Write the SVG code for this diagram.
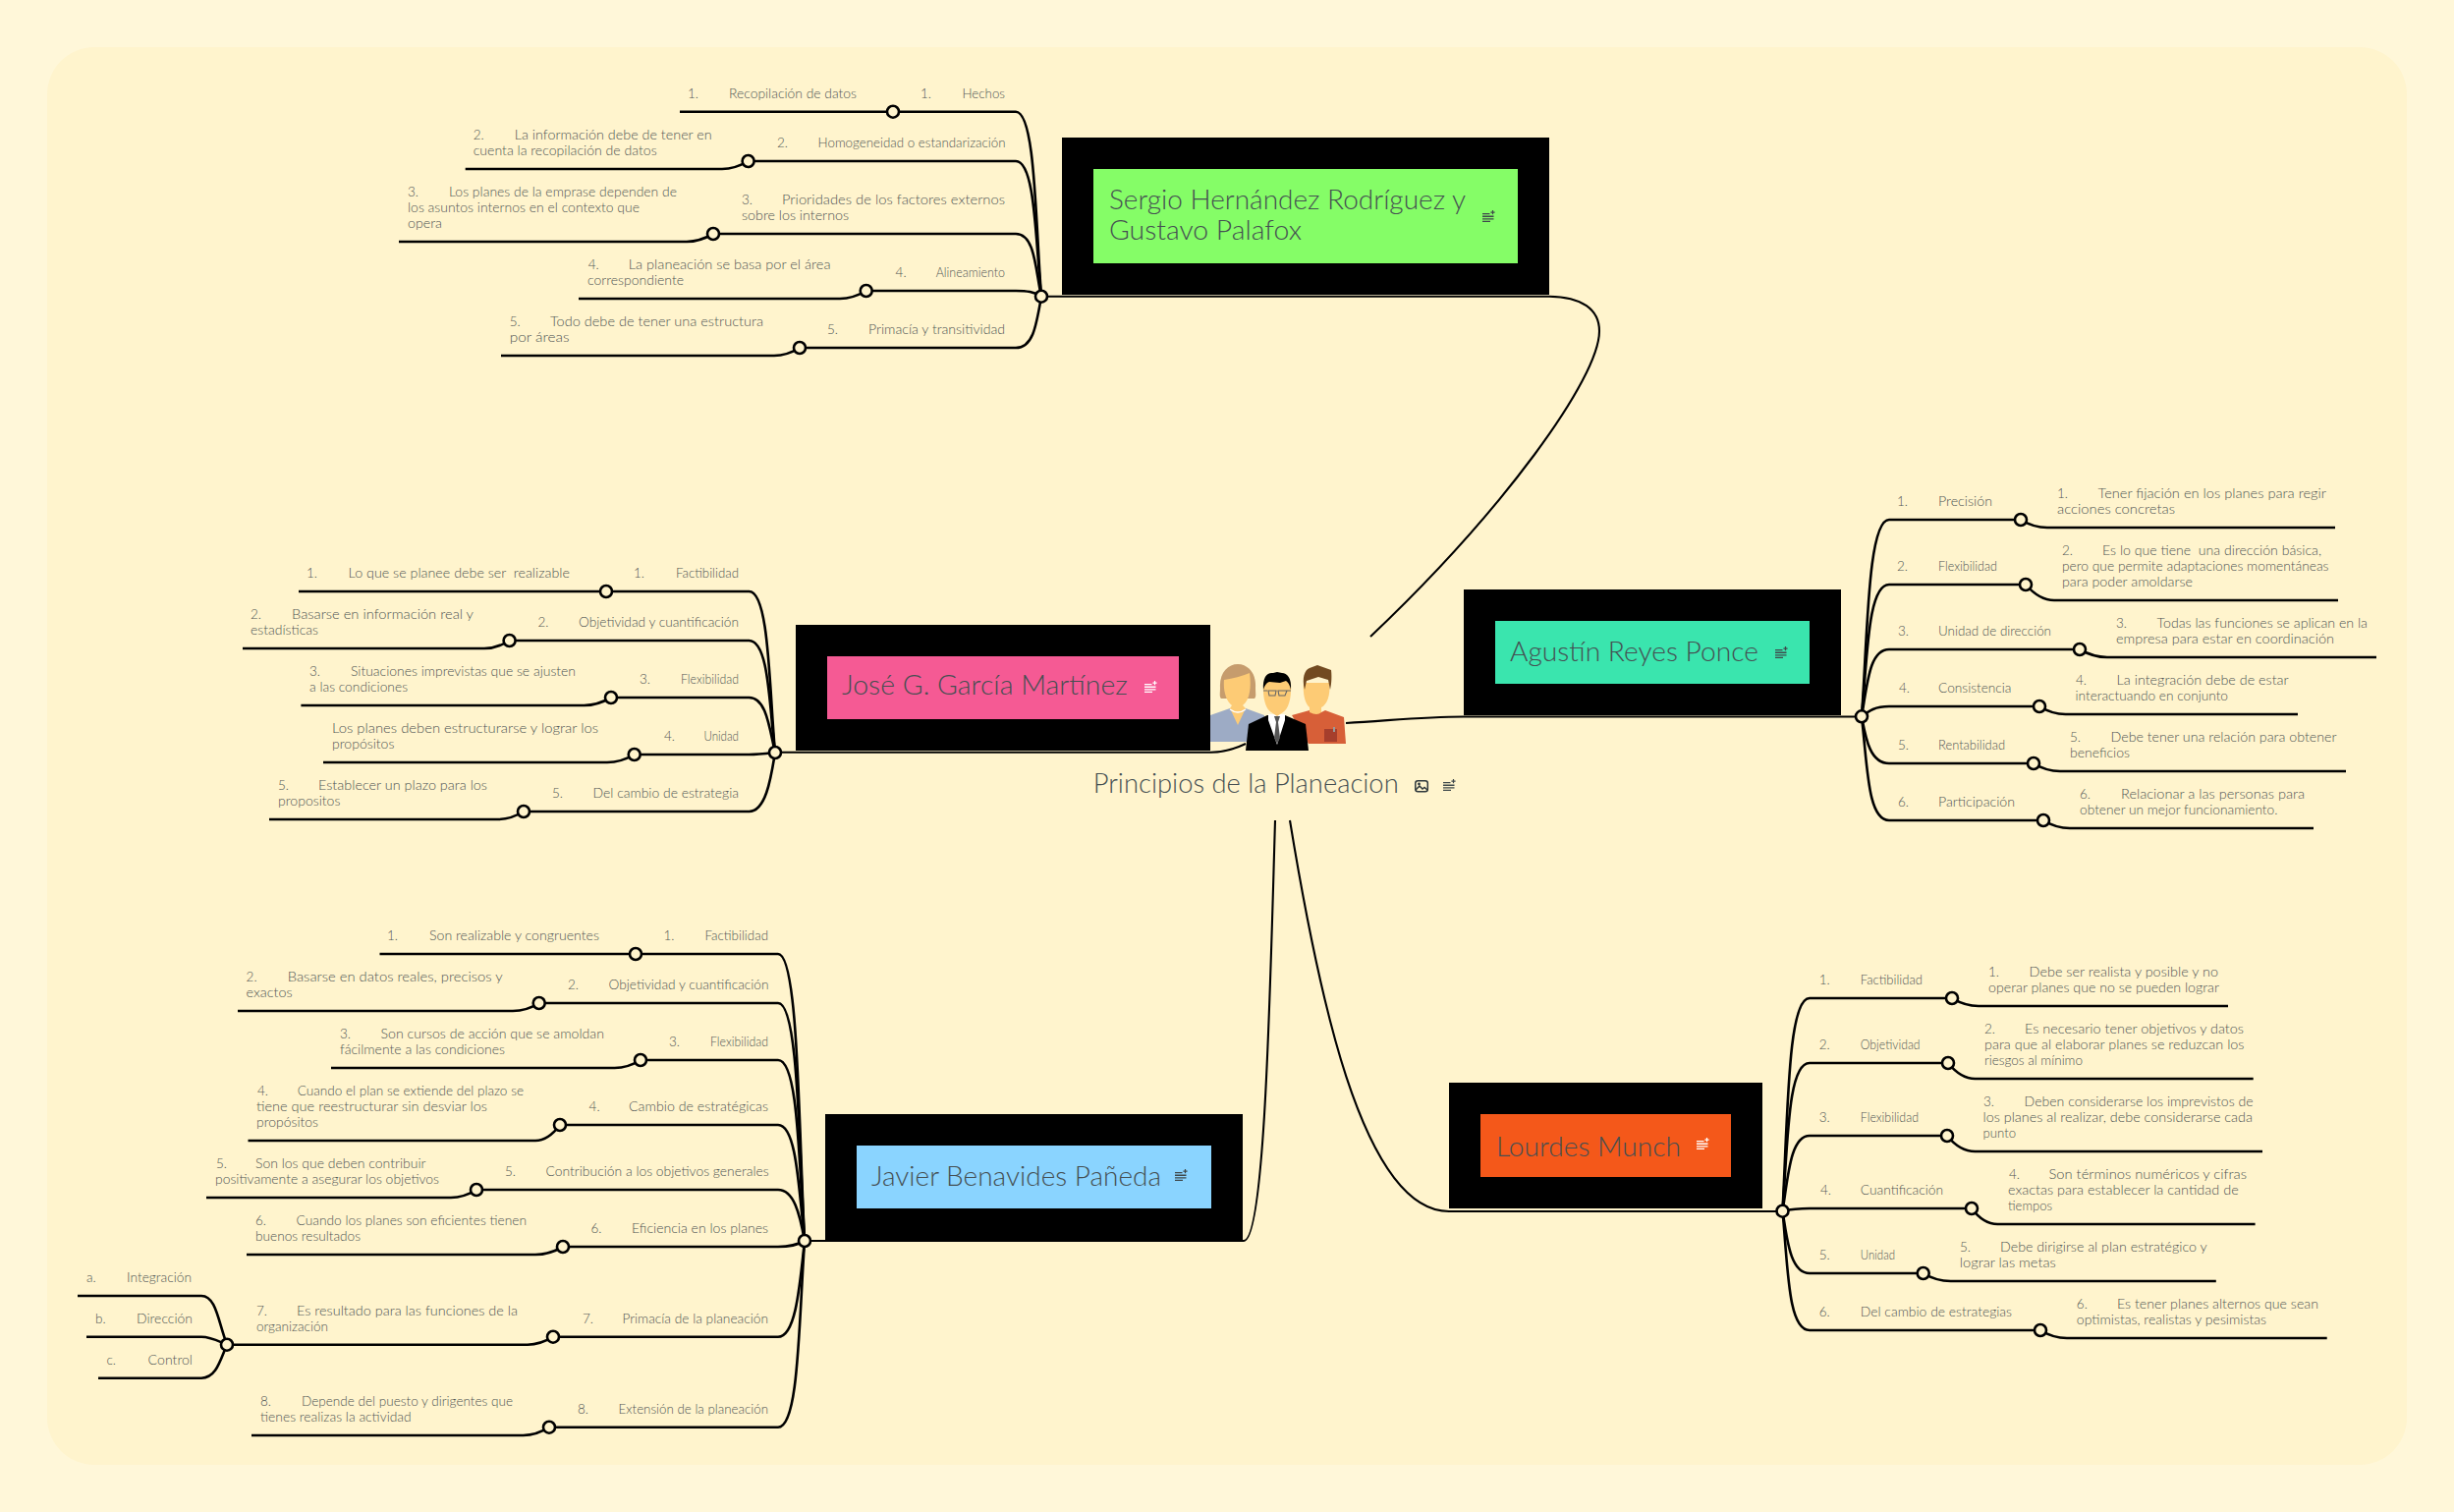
<svg xmlns="http://www.w3.org/2000/svg" width="2498" height="1539" viewBox="0 0 2498 1539">
<style>
text{font-family:"Lato","Open Sans","Liberation Sans",sans-serif;}
.t{font-size:13.5px;fill:#4f5454;font-weight:300;white-space:pre}
.b{font-size:27px;fill:#454f52;font-weight:300}
.c{fill:none;stroke:#000;stroke-width:2.6;stroke-linecap:butt}
.m{fill:none;stroke:#000;stroke-width:2.1;stroke-linecap:butt}
.h{fill:#fff4cd;stroke:#000;stroke-width:2.6}
.k{fill:#000}
.nw{fill:#fff}
.nd{fill:#3f484b}
</style>
<defs>
<symbol id="note" viewBox="0 0 13 12"><path d="M0,3h7.5v1.3H0zM0,5.6h11.5v1.3H0zM0,8.2h11.5v1.3H0zM0,10.7h8v1.3H0zM9.9,0h1.2v1.5h1.5v1.2h-1.5v1.5h-1.2v-1.5h-1.5v-1.2h1.5z"/></symbol>
</defs>
<rect width="2498" height="1539" fill="#fff7d9"/>
<rect x="48" y="48" width="2402" height="1443" rx="48" fill="#fff4cd"/>

<g id="connectors">
<path class="m" d="M1060,301.7H1577C1610,302 1628,315 1628,337C1628,385 1530,520 1395,648"/>
<path class="c" d="M692,113.7H1034C1054,113.7 1054,226 1060,301.7"/>
<path class="c" d="M473.7,172H735Q748,172 761.6,164H1034C1054,164 1054,246 1060,301.7"/>
<path class="c" d="M406,246H699Q712,246 726,238H1034C1054,238 1054,276 1060,301.7"/>
<path class="c" d="M589,304H855Q868,304 881.7,296H1034C1046,296 1052,297 1060,301.7"/>
<path class="c" d="M510,362H788Q801,362 814,354H1034C1052,354 1055,330 1060,301.7"/>

<path class="m" d="M1268,757Q1250,765.7 1233,765.7H789"/>
<path class="c" d="M304,602H762.5C783,602 783,700 789,766"/>
<path class="c" d="M247,660H493Q506,660 518.6,652H762.5C783,652 783,720 789,766"/>
<path class="c" d="M306.4,718H594.6Q608,718 622,710H762.5C780,710 783,740 789,766"/>
<path class="c" d="M329,776H618Q632,776 645.7,768H762.5C772,768 780,767 789,766"/>
<path class="c" d="M274,834H506Q520,834 533,826H762.5C780,826 785,790 789,766"/>

<path class="m" d="M1370,736C1420,733 1450,729.5 1490,729.5H1895"/>
<path class="c" d="M2377,537H2084Q2070,537 2057,529H1923C1901,529 1901,650 1895,729.3"/>
<path class="c" d="M2380,611H2091Q2076,611 2062,595H1923C1901,595 1901,670 1895,729.3"/>
<path class="c" d="M2419,669H2145Q2131,669 2117,661H1923C1903,661 1901,695 1895,729.3"/>
<path class="c" d="M2339,727H2102.6Q2089,727 2076,719H1923C1908,719 1902,724 1895,729.3"/>
<path class="c" d="M2388,785H2097Q2083,785 2070,777H1923C1903,777 1899,750 1895,729.3"/>
<path class="c" d="M2355,843H2107Q2093,843 2080,835H1923C1901,835 1901,780 1895,729.3"/>

<path class="m" d="M1313,835C1340,1000 1385,1233 1475,1233H1814.5"/>
<path class="c" d="M2268,1024H2014Q2000,1024 1987,1016H1842C1820,1016 1820,1130 1814.5,1232.7"/>
<path class="c" d="M2293.7,1098H2010.5Q1996,1098 1983,1082H1842C1820,1082 1820,1160 1814.5,1232.7"/>
<path class="c" d="M2303,1172H2010.5Q1995,1172 1982,1156H1842C1822,1156 1820,1200 1814.5,1232.7"/>
<path class="c" d="M2295.6,1246H2033.4Q2019,1246 2007,1230H1842C1830,1230 1822,1231 1814.5,1232.7"/>
<path class="c" d="M2255.8,1304H1985.6Q1971,1304 1957.7,1296H1842C1822,1296 1819,1260 1814.5,1232.7"/>
<path class="c" d="M2368.7,1362H2104Q2090,1362 2077,1354H1842C1820,1354 1820,1290 1814.5,1232.7"/>

<path class="m" d="M1298,835C1293,1000 1288,1263 1266,1263H819"/>
<path class="c" d="M386.5,971H792C813,971 813,1150 819,1263"/>
<path class="c" d="M242,1029H522Q536,1029 548.7,1021H792C813,1021 813,1165 819,1263"/>
<path class="c" d="M337,1087H625.7Q639,1087 652,1079H792C813,1079 813,1185 819,1263"/>
<path class="c" d="M252.5,1161H545Q558,1161 570,1145H792C811,1145 813,1210 819,1263"/>
<path class="c" d="M210,1219H459Q472,1219 485,1211H792C808,1211 814,1235 819,1263"/>
<path class="c" d="M251,1277H545Q559,1277 573,1269H792C803,1269 812,1267 819,1263"/>
<path class="c" d="M231,1368.7H537Q550,1368.7 563,1360.7H792C810,1360.7 814,1310 819,1263"/>
<path class="c" d="M256,1461H532.6Q546,1461 559,1452.7H792C813,1452.7 813,1350 819,1263"/>
<path class="c" d="M79,1319H205C220,1319 222,1345 231,1368.7"/>
<path class="c" d="M88,1360.7H205C215,1360.7 222,1365 231,1368.7"/>
<path class="c" d="M100,1402.7H205C220,1402.7 224,1385 231,1368.7"/>

<g>
<circle class="h" cx="1060" cy="301.7" r="6"/><circle class="h" cx="909" cy="113.7" r="6"/><circle class="h" cx="761.6" cy="164" r="6"/><circle class="h" cx="726" cy="238" r="6"/><circle class="h" cx="881.7" cy="296" r="6"/><circle class="h" cx="814" cy="354" r="6"/>
<circle class="h" cx="789" cy="766" r="6"/><circle class="h" cx="617" cy="602" r="6"/><circle class="h" cx="518.6" cy="652" r="6"/><circle class="h" cx="622" cy="710" r="6"/><circle class="h" cx="645.7" cy="768" r="6"/><circle class="h" cx="533" cy="826" r="6"/>
<circle class="h" cx="1895" cy="729.3" r="6"/><circle class="h" cx="2057" cy="529" r="6"/><circle class="h" cx="2062" cy="595" r="6"/><circle class="h" cx="2117" cy="661" r="6"/><circle class="h" cx="2076" cy="719" r="6"/><circle class="h" cx="2070" cy="777" r="6"/><circle class="h" cx="2080" cy="835" r="6"/>
<circle class="h" cx="1814.5" cy="1232.7" r="6"/><circle class="h" cx="1987" cy="1016" r="6"/><circle class="h" cx="1983" cy="1082" r="6"/><circle class="h" cx="1982" cy="1156" r="6"/><circle class="h" cx="2007" cy="1230" r="6"/><circle class="h" cx="1957.7" cy="1296" r="6"/><circle class="h" cx="2077" cy="1354" r="6"/>
<circle class="h" cx="819" cy="1263" r="6"/><circle class="h" cx="647" cy="971" r="6"/><circle class="h" cx="548.7" cy="1021" r="6"/><circle class="h" cx="652" cy="1079" r="6"/><circle class="h" cx="570" cy="1145" r="6"/><circle class="h" cx="485" cy="1211" r="6"/><circle class="h" cx="573" cy="1269" r="6"/><circle class="h" cx="563" cy="1360.7" r="6"/><circle class="h" cx="559" cy="1452.7" r="6"/><circle class="h" cx="231" cy="1368.7" r="6"/>
</g>
</g>

<g id="root">
<g id="people">
<path fill="#9dabc5" d="M1232,728L1252,721H1268L1287,728V755H1232Z"/>
<path fill="#c69c6d" d="M1242,700C1241,685 1250,676 1260,676C1270,676 1279,685 1278,700C1278,706 1279,709 1277,711H1243C1241,709 1242,706 1242,700Z"/>
<path fill="#fdcb75" d="M1246,692Q1260,690 1272,685C1274,700 1272,713 1265,718L1268,721L1260,738L1252,721L1254,718C1248,713 1245,703 1246,692Z"/>
<path fill="none" stroke="#fff" stroke-width="1.5" d="M1252,722Q1260,728 1268,722"/>
<path fill="#d75f38" d="M1315,728L1333,723Q1341,728 1349,723L1368,730L1370,757H1332Z"/>
<path fill="#a63e2c" d="M1348,742H1361V755H1348Z"/>
<path fill="#999" d="M1357,740H1359V745H1357Z"/>
<path fill="#fdcb75" d="M1327,695H1353C1355,708 1350,718 1345,720V725Q1341,729 1333,725V720C1328,716 1326,705 1327,695Z"/>
<path fill="#724a21" d="M1328,702C1325,690 1328,682 1333,680L1341,677L1355,682C1356,690 1355,698 1354,702L1352,692L1342,689L1330,693Z"/>
<path fill="#000" d="M1268,764L1271,737L1290,728H1308L1329,737L1332,764Z"/>
<path fill="#fff" d="M1291,727H1308V733L1300,758L1291,733Z"/>
<path fill="#555" d="M1297,729H1303L1301,735L1303,751L1300,757L1297,751L1299,735Z"/>
<path fill="#fdcb75" d="M1286,695C1291,690 1309,690 1314,695C1315,712 1311,722 1306,725L1300,729L1294,725C1289,722 1285,712 1286,695Z"/>
<path fill="#000" d="M1286,702C1285,689 1290,684 1296,685L1300,684L1305,685C1310,685 1315,690 1314,702C1313,697 1311,694 1309,693L1303,695L1292,694C1289,695 1287,698 1286,702Z"/>
<path fill="none" stroke="#666" stroke-width="1.1" d="M1286,703H1290M1310,703H1314M1291,703H1299L1298,708H1292ZM1301,703H1310L1308,708H1302Z"/>
</g>
<text class="b" x="1112.7" y="807" textLength="311" lengthAdjust="spacingAndGlyphs">Principios de la Planeacion</text>
<g fill="none" stroke="#2f383c" stroke-width="1.5"><rect x="1440.8" y="794.8" width="12.5" height="11" rx="2.5"/><path d="M1441,804L1445,800L1448,803L1450,801.5L1453,804"/></g><circle cx="1444.5" cy="798" r="1.4" fill="#2f383c"/>
<use href="#note" class="nd" x="1469" y="793" width="13" height="12"/>
</g>

<g id="node-sergio">
<rect class="k" x="1081" y="140" width="496" height="160"/>
<rect x="1113" y="172" width="432" height="96" fill="#85fd67"/>
<text class="b" x="1129" y="213" textLength="363" lengthAdjust="spacingAndGlyphs">Sergio Hernández Rodríguez y</text>
<text class="b" x="1129" y="244" textLength="196" lengthAdjust="spacingAndGlyphs">Gustavo Palafox</text>
<use href="#note" class="nd" x="1509" y="214" width="13" height="12"/>
</g>
<g id="node-jose">
<rect class="k" x="810" y="636" width="422" height="128"/>
<rect x="842" y="668" width="358" height="64" fill="#f55a94"/>
<text class="b" x="857" y="707" textLength="291" lengthAdjust="spacingAndGlyphs">José G. García Martínez</text>
<use href="#note" class="nw" x="1165" y="693" width="13" height="12"/>
</g>
<g id="node-agustin">
<rect class="k" x="1490" y="600" width="384" height="128"/>
<rect x="1522" y="632" width="320" height="64" fill="#3ae5ae"/>
<text class="b" x="1537" y="673" textLength="253" lengthAdjust="spacingAndGlyphs">Agustín Reyes Ponce</text>
<use href="#note" class="nd" x="1807" y="658" width="13" height="12"/>
</g>
<g id="node-lourdes">
<rect class="k" x="1475" y="1102" width="319" height="128"/>
<rect x="1507" y="1134" width="255" height="64" fill="#f4581a"/>
<text class="b" x="1523" y="1177" textLength="188" lengthAdjust="spacingAndGlyphs">Lourdes Munch</text>
<use href="#note" class="nw" x="1727" y="1158" width="13" height="12"/>
</g>
<g id="node-javier">
<rect class="k" x="840" y="1134" width="425" height="128"/>
<rect x="872" y="1166" width="361" height="64" fill="#8ad4ff"/>
<text class="b" x="887" y="1207" textLength="295" lengthAdjust="spacingAndGlyphs">Javier Benavides Pañeda</text>
<use href="#note" class="nd" x="1196" y="1190" width="13" height="12"/>
</g>

<g id="labels-sergio">
<text class="t" y="100"><tspan x="937">1. </tspan><tspan x="979.5" textLength="43.5" lengthAdjust="spacingAndGlyphs">Hechos</tspan></text>
<text class="t" y="100"><tspan x="700">1. </tspan><tspan x="742" textLength="130" lengthAdjust="spacingAndGlyphs">Recopilación de datos</tspan></text>
<text class="t" y="150"><tspan x="791">2. </tspan><tspan x="832.6" textLength="191" lengthAdjust="spacingAndGlyphs">Homogeneidad o estandarización</tspan></text>
<text class="t" y="142"><tspan x="481.7">2. </tspan><tspan x="523.7" textLength="201" lengthAdjust="spacingAndGlyphs">La información debe de tener en</tspan></text>
<text class="t" x="481.7" y="158" textLength="187" lengthAdjust="spacingAndGlyphs">cuenta la recopilación de datos</text>
<text class="t" y="208"><tspan x="755">3. </tspan><tspan x="796" textLength="227" lengthAdjust="spacingAndGlyphs">Prioridades de los factores externos</tspan></text>
<text class="t" x="755" y="224" textLength="109" lengthAdjust="spacingAndGlyphs">sobre los internos</text>
<text class="t" y="200"><tspan x="415">3. </tspan><tspan x="457" textLength="232" lengthAdjust="spacingAndGlyphs">Los planes de la emprase dependen de</tspan></text>
<text class="t" x="415" y="216" textLength="236" lengthAdjust="spacingAndGlyphs">los asuntos internos en el contexto que</text>
<text class="t" x="415" y="232" textLength="35" lengthAdjust="spacingAndGlyphs">opera</text>
<text class="t" y="282"><tspan x="911.6">4. </tspan><tspan x="952.7" textLength="70.3" lengthAdjust="spacingAndGlyphs">Alineamiento</tspan></text>
<text class="t" y="274"><tspan x="598.7">4. </tspan><tspan x="639.7" textLength="205.8" lengthAdjust="spacingAndGlyphs">La planeación se basa por el área</tspan></text>
<text class="t" x="598" y="290" textLength="98" lengthAdjust="spacingAndGlyphs">correspondiente</text>
<text class="t" y="340"><tspan x="842">5. </tspan><tspan x="884" textLength="139" lengthAdjust="spacingAndGlyphs">Primacía y transitividad</tspan></text>
<text class="t" y="332"><tspan x="518.7">5. </tspan><tspan x="560" textLength="217" lengthAdjust="spacingAndGlyphs">Todo debe de tener una estructura</tspan></text>
<text class="t" x="518.7" y="348" textLength="60.8" lengthAdjust="spacingAndGlyphs">por áreas</text>
</g>

<g id="labels-jose">
<text class="t" y="588"><tspan x="645">1. </tspan><tspan x="688" textLength="64" lengthAdjust="spacingAndGlyphs">Factibilidad</tspan></text>
<text class="t" y="588"><tspan x="312">1. </tspan><tspan x="354.6" textLength="225.4" lengthAdjust="spacingAndGlyphs">Lo que se planee debe ser  realizable</tspan></text>
<text class="t" y="638"><tspan x="547.5">2. </tspan><tspan x="589" textLength="163" lengthAdjust="spacingAndGlyphs">Objetividad y cuantificación</tspan></text>
<text class="t" y="630"><tspan x="255">2. </tspan><tspan x="297" textLength="185" lengthAdjust="spacingAndGlyphs">Basarse en información real y</tspan></text>
<text class="t" x="255" y="646" textLength="69" lengthAdjust="spacingAndGlyphs">estadísticas</text>
<text class="t" y="696"><tspan x="651">3. </tspan><tspan x="693" textLength="59" lengthAdjust="spacingAndGlyphs">Flexibilidad</tspan></text>
<text class="t" y="688"><tspan x="315">3. </tspan><tspan x="357" textLength="229" lengthAdjust="spacingAndGlyphs">Situaciones imprevistas que se ajusten</tspan></text>
<text class="t" x="315" y="704" textLength="100" lengthAdjust="spacingAndGlyphs">a las condiciones</text>
<text class="t" y="754"><tspan x="676">4. </tspan><tspan x="716.4" textLength="35.6" lengthAdjust="spacingAndGlyphs">Unidad</tspan></text>
<text class="t" x="338" y="746" textLength="271" lengthAdjust="spacingAndGlyphs">Los planes deben estructurarse y lograr los</text>
<text class="t" x="338" y="762" textLength="63.4" lengthAdjust="spacingAndGlyphs">propósitos</text>
<text class="t" y="812"><tspan x="562">5. </tspan><tspan x="603.6" textLength="148.4" lengthAdjust="spacingAndGlyphs">Del cambio de estrategia</tspan></text>
<text class="t" y="804"><tspan x="283">5. </tspan><tspan x="324" textLength="172" lengthAdjust="spacingAndGlyphs">Establecer un plazo para los</tspan></text>
<text class="t" x="283" y="820" textLength="63.4" lengthAdjust="spacingAndGlyphs">propositos</text>
</g>

<g id="labels-javier">
<text class="t" y="957"><tspan x="394">1. </tspan><tspan x="437" textLength="173" lengthAdjust="spacingAndGlyphs">Son realizable y congruentes</tspan></text>
<text class="t" y="957"><tspan x="675.4">1. </tspan><tspan x="717.5" textLength="64.5" lengthAdjust="spacingAndGlyphs">Factibilidad</tspan></text>
<text class="t" y="1007"><tspan x="578">2. </tspan><tspan x="619.5" textLength="163" lengthAdjust="spacingAndGlyphs">Objetividad y cuantificación</tspan></text>
<text class="t" y="999"><tspan x="250.6">2. </tspan><tspan x="292.7" textLength="219" lengthAdjust="spacingAndGlyphs">Basarse en datos reales, precisos y</tspan></text>
<text class="t" x="250.6" y="1015" textLength="47" lengthAdjust="spacingAndGlyphs">exactos</text>
<text class="t" y="1065"><tspan x="681">3. </tspan><tspan x="723" textLength="59" lengthAdjust="spacingAndGlyphs">Flexibilidad</tspan></text>
<text class="t" y="1057"><tspan x="346">3. </tspan><tspan x="387.6" textLength="227.4" lengthAdjust="spacingAndGlyphs">Son cursos de acción que se amoldan</tspan></text>
<text class="t" x="346" y="1073" textLength="168" lengthAdjust="spacingAndGlyphs">fácilmente a las condiciones</text>
<text class="t" y="1131"><tspan x="599.6">4. </tspan><tspan x="640" textLength="142" lengthAdjust="spacingAndGlyphs">Cambio de estratégicas</tspan></text>
<text class="t" y="1115"><tspan x="262">4. </tspan><tspan x="302.7" textLength="230.3" lengthAdjust="spacingAndGlyphs">Cuando el plan se extiende del plazo se</tspan></text>
<text class="t" x="261" y="1131" textLength="235" lengthAdjust="spacingAndGlyphs">tiene que reestructurar sin desviar los</text>
<text class="t" x="261" y="1147" textLength="63" lengthAdjust="spacingAndGlyphs">propósitos</text>
<text class="t" y="1197"><tspan x="514">5. </tspan><tspan x="555.6" textLength="227" lengthAdjust="spacingAndGlyphs">Contribución a los objetivos generales</tspan></text>
<text class="t" y="1189"><tspan x="220">5. </tspan><tspan x="260" textLength="173.5" lengthAdjust="spacingAndGlyphs">Son los que deben contribuir</tspan></text>
<text class="t" x="219" y="1205" textLength="228" lengthAdjust="spacingAndGlyphs">positivamente a asegurar los objetivos</text>
<text class="t" y="1255"><tspan x="601.5">6. </tspan><tspan x="643" textLength="139" lengthAdjust="spacingAndGlyphs">Eficiencia en los planes</tspan></text>
<text class="t" y="1247"><tspan x="260">6. </tspan><tspan x="301.5" textLength="234.5" lengthAdjust="spacingAndGlyphs">Cuando los planes son eficientes tienen</tspan></text>
<text class="t" x="260" y="1263" textLength="107" lengthAdjust="spacingAndGlyphs">buenos resultados</text>
<text class="t" y="1347"><tspan x="593">7. </tspan><tspan x="633.4" textLength="148.6" lengthAdjust="spacingAndGlyphs">Primacía de la planeación</tspan></text>
<text class="t" y="1339"><tspan x="261">7. </tspan><tspan x="302" textLength="225" lengthAdjust="spacingAndGlyphs">Es resultado para las funciones de la</tspan></text>
<text class="t" x="261" y="1355" textLength="73" lengthAdjust="spacingAndGlyphs">organización</text>
<text class="t" y="1439"><tspan x="588">8. </tspan><tspan x="629.6" textLength="152.4" lengthAdjust="spacingAndGlyphs">Extensión de la planeación</tspan></text>
<text class="t" y="1431"><tspan x="265">8. </tspan><tspan x="307" textLength="215" lengthAdjust="spacingAndGlyphs">Depende del puesto y dirigentes que</tspan></text>
<text class="t" x="265" y="1447" textLength="153.7" lengthAdjust="spacingAndGlyphs">tienes realizas la actividad</text>
<text class="t" y="1305"><tspan x="88">a. </tspan><tspan x="129" textLength="66" lengthAdjust="spacingAndGlyphs">Integración</tspan></text>
<text class="t" y="1347"><tspan x="97">b. </tspan><tspan x="139" textLength="57" lengthAdjust="spacingAndGlyphs">Dirección</tspan></text>
<text class="t" y="1389"><tspan x="108.5">c. </tspan><tspan x="150.6" textLength="45.4" lengthAdjust="spacingAndGlyphs">Control</tspan></text>
</g>

<g id="labels-agustin">
<text class="t" y="515"><tspan x="1931">1. </tspan><tspan x="1973" textLength="55" lengthAdjust="spacingAndGlyphs">Precisión</tspan></text>
<text class="t" y="507"><tspan x="2094">1. </tspan><tspan x="2135.5" textLength="232.5" lengthAdjust="spacingAndGlyphs">Tener fijación en los planes para regir</tspan></text>
<text class="t" x="2094" y="523" textLength="120" lengthAdjust="spacingAndGlyphs">acciones concretas</text>
<text class="t" y="581"><tspan x="1931">2. </tspan><tspan x="1973" textLength="60" lengthAdjust="spacingAndGlyphs">Flexibilidad</tspan></text>
<text class="t" y="565"><tspan x="2099">2. </tspan><tspan x="2140" textLength="223" lengthAdjust="spacingAndGlyphs">Es lo que tiene  una dirección básica,</tspan></text>
<text class="t" x="2099" y="581" textLength="271.5" lengthAdjust="spacingAndGlyphs">pero que permite adaptaciones momentáneas</text>
<text class="t" x="2099" y="597" textLength="133" lengthAdjust="spacingAndGlyphs">para poder amoldarse</text>
<text class="t" y="647"><tspan x="1932">3. </tspan><tspan x="1973" textLength="115" lengthAdjust="spacingAndGlyphs">Unidad de dirección</tspan></text>
<text class="t" y="639"><tspan x="2154">3. </tspan><tspan x="2195.6" textLength="214.4" lengthAdjust="spacingAndGlyphs">Todas las funciones se aplican en la</tspan></text>
<text class="t" x="2154" y="655" textLength="222" lengthAdjust="spacingAndGlyphs">empresa para estar en coordinación</text>
<text class="t" y="705"><tspan x="1933">4. </tspan><tspan x="1973" textLength="74.5" lengthAdjust="spacingAndGlyphs">Consistencia</tspan></text>
<text class="t" y="697"><tspan x="2113">4. </tspan><tspan x="2154.6" textLength="175" lengthAdjust="spacingAndGlyphs">La integración debe de estar</tspan></text>
<text class="t" x="2112.5" y="713" textLength="155.5" lengthAdjust="spacingAndGlyphs">interactuando en conjunto</text>
<text class="t" y="763"><tspan x="1932">5. </tspan><tspan x="1973" textLength="68" lengthAdjust="spacingAndGlyphs">Rentabilidad</tspan></text>
<text class="t" y="755"><tspan x="2107">5. </tspan><tspan x="2148.5" textLength="230" lengthAdjust="spacingAndGlyphs">Debe tener una relación para obtener</tspan></text>
<text class="t" x="2107" y="771" textLength="61" lengthAdjust="spacingAndGlyphs">beneficios</text>
<text class="t" y="821"><tspan x="1932">6. </tspan><tspan x="1973" textLength="78" lengthAdjust="spacingAndGlyphs">Participación</tspan></text>
<text class="t" y="813"><tspan x="2117">6. </tspan><tspan x="2159" textLength="187" lengthAdjust="spacingAndGlyphs">Relacionar a las personas para</tspan></text>
<text class="t" x="2117" y="829" textLength="201.4" lengthAdjust="spacingAndGlyphs">obtener un mejor funcionamiento.</text>
</g>

<g id="labels-lourdes">
<text class="t" y="1002"><tspan x="1851.7">1. </tspan><tspan x="1893.8" textLength="63.2" lengthAdjust="spacingAndGlyphs">Factibilidad</tspan></text>
<text class="t" y="994"><tspan x="2024">1. </tspan><tspan x="2065.6" textLength="192.4" lengthAdjust="spacingAndGlyphs">Debe ser realista y posible y no</tspan></text>
<text class="t" x="2024" y="1010" textLength="235" lengthAdjust="spacingAndGlyphs">operar planes que no se pueden lograr</text>
<text class="t" y="1068"><tspan x="1851.7">2. </tspan><tspan x="1893.8" textLength="60.8" lengthAdjust="spacingAndGlyphs">Objetividad</tspan></text>
<text class="t" y="1052"><tspan x="2020">2. </tspan><tspan x="2061" textLength="223" lengthAdjust="spacingAndGlyphs">Es necesario tener objetivos y datos</tspan></text>
<text class="t" x="2020" y="1068" textLength="264.5" lengthAdjust="spacingAndGlyphs">para que al elaborar planes se reduzcan los</text>
<text class="t" x="2020" y="1084" textLength="100" lengthAdjust="spacingAndGlyphs">riesgos al mínimo</text>
<text class="t" y="1142"><tspan x="1851.7">3. </tspan><tspan x="1893.8" textLength="59.2" lengthAdjust="spacingAndGlyphs">Flexibilidad</tspan></text>
<text class="t" y="1126"><tspan x="2019">3. </tspan><tspan x="2060.6" textLength="233" lengthAdjust="spacingAndGlyphs">Deben considerarse los imprevistos de</tspan></text>
<text class="t" x="2018.5" y="1142" textLength="274.5" lengthAdjust="spacingAndGlyphs">los planes al realizar, debe considerarse cada</text>
<text class="t" x="2018.5" y="1158" textLength="33.5" lengthAdjust="spacingAndGlyphs">punto</text>
<text class="t" y="1216"><tspan x="1853">4. </tspan><tspan x="1893.8" textLength="84.2" lengthAdjust="spacingAndGlyphs">Cuantificación</tspan></text>
<text class="t" y="1200"><tspan x="2045">4. </tspan><tspan x="2085.5" textLength="201.5" lengthAdjust="spacingAndGlyphs">Son términos numéricos y cifras</tspan></text>
<text class="t" x="2044" y="1216" textLength="234.7" lengthAdjust="spacingAndGlyphs">exactas para establecer la cantidad de</text>
<text class="t" x="2044" y="1232" textLength="45" lengthAdjust="spacingAndGlyphs">tiempos</text>
<text class="t" y="1282"><tspan x="1851.7">5. </tspan><tspan x="1893.8" textLength="35.2" lengthAdjust="spacingAndGlyphs">Unidad</tspan></text>
<text class="t" y="1274"><tspan x="1995">5. </tspan><tspan x="2036" textLength="210.6" lengthAdjust="spacingAndGlyphs">Debe dirigirse al plan estratégico y</tspan></text>
<text class="t" x="1994.8" y="1290" textLength="98" lengthAdjust="spacingAndGlyphs">lograr las metas</text>
<text class="t" y="1340"><tspan x="1851.7">6. </tspan><tspan x="1893.8" textLength="154.2" lengthAdjust="spacingAndGlyphs">Del cambio de estrategias</tspan></text>
<text class="t" y="1332"><tspan x="2113.8">6. </tspan><tspan x="2155" textLength="205" lengthAdjust="spacingAndGlyphs">Es tener planes alternos que sean</tspan></text>
<text class="t" x="2113.8" y="1348" textLength="193.2" lengthAdjust="spacingAndGlyphs">optimistas, realistas y pesimistas</text>
</g>
</svg>
